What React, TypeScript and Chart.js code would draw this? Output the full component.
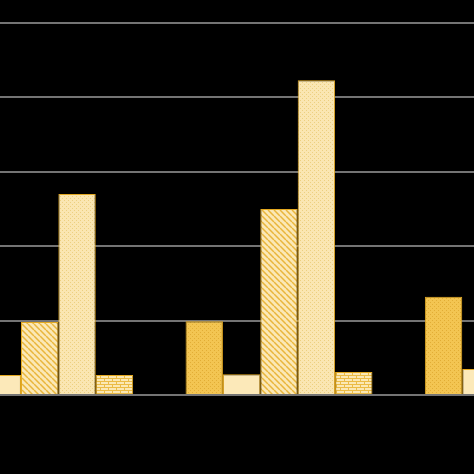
import React, { useEffect, useRef } from "react";
import { Chart, registerables } from "chart.js";

Chart.register(...registerables);

const categories = ["A", "B", "C"];
const seriesNames = ["S1", "S2", "S3", "S4", "S5"];
const series1 = [10.5, 9.9, 13.2];
const series2 = [2.7, 2.8, 3.5];
const series3 = [9.8, 25.0, 30.0];
const series4 = [27.0, 42.3, 45.0];
const series5 = [2.7, 3.1, 4.0];
const gridTicks = [0, 10, 20, 30, 40, 50];

function makePattern(
  w: number,
  h: number,
  draw: (c: CanvasRenderingContext2D) => void
): CanvasPattern | string {
  const cv = document.createElement("canvas");
  cv.width = w;
  cv.height = h;
  const c = cv.getContext("2d");
  if (!c) return "#fbe7b4";
  draw(c);
  const ctx2 = document.createElement("canvas").getContext("2d");
  return (ctx2 && ctx2.createPattern(cv, "repeat")) || "#fbe7b4";
}

export default function App() {
  const ref = useRef<HTMLCanvasElement | null>(null);
  useEffect(() => {
    document.body.style.margin = "0";
    document.body.style.background = "#000";
    const canvas = ref.current;
    if (!canvas) return;

    const darkDots = makePattern(4, 4, (c) => {
      c.fillStyle = "#f3c552";
      c.fillRect(0, 0, 4, 4);
      c.fillStyle = "#e2ad35";
      c.fillRect(0, 0, 1, 1);
      c.fillRect(2, 2, 1, 1);
    });
    const cream = "#fce9b9";
    const hatch = makePattern(6, 6, (c) => {
      c.fillStyle = "#fbe8b6";
      c.fillRect(0, 0, 6, 6);
      c.strokeStyle = "#e9b63c";
      c.lineWidth = 1.5;
      c.beginPath();
      for (let k = -6; k <= 12; k += 6) {
        c.moveTo(k, 0);
        c.lineTo(k + 6, 6);
      }
      c.stroke();
    });
    const fineDots = makePattern(4, 4, (c) => {
      c.fillStyle = "#fae6b2";
      c.fillRect(0, 0, 4, 4);
      c.fillStyle = "#eccf80";
      c.fillRect(0, 0, 1, 1);
      c.fillRect(2, 2, 1, 1);
    });
    const brick = makePattern(8, 6, (c) => {
      c.fillStyle = "#fbe8b4";
      c.fillRect(0, 0, 8, 6);
      c.fillStyle = "#ebbb45";
      c.fillRect(0, 0, 8, 1);
      c.fillRect(0, 3, 8, 1);
      c.fillRect(0, 0, 1, 3);
      c.fillRect(4, 3, 1, 3);
    });

    const fills = [darkDots, cream, hatch, fineDots, brick];
    const values = [series1, series2, series3, series4, series5];

    const chart = new Chart(canvas, {
      type: "bar",
      data: {
        labels: categories,
        datasets: values.map((v, i) => ({
          label: seriesNames[i],
          data: v,
          backgroundColor: fills[i] as any,
          borderColor: "#e3a820",
          borderWidth: 1,
          barPercentage: 1,
          categoryPercentage: 0.781,
        })),
      },
      options: {
        animation: false,
        responsive: false,
        layout: { padding: 0 },
        plugins: { legend: { display: false }, tooltip: { enabled: false } },
        scales: {
          x: { display: false },
          y: {
            min: -10.62,
            max: 53.09,
            afterBuildTicks: (axis: any) => {
              axis.ticks = gridTicks.map((v) => ({ value: v }));
            },
            afterFit: (axis: any) => {
              axis.width = 0;
            },
            ticks: { display: false },
            border: { display: false },
            grid: {
              color: "#747474",
              lineWidth: 2,
              drawTicks: false,
            },
          },
        },
      },
    });
    return () => chart.destroy();
  }, []);

  return (
    <div
      style={{
        position: "fixed",
        left: 0,
        top: 0,
        width: 474,
        height: 474,
        overflow: "hidden",
        background: "#000",
      }}
    >
      <canvas
        ref={ref}
        width={718}
        height={474}
        style={{ position: "absolute", left: -80, top: 0, width: 718, height: 474 }}
      />
    </div>
  );
}
